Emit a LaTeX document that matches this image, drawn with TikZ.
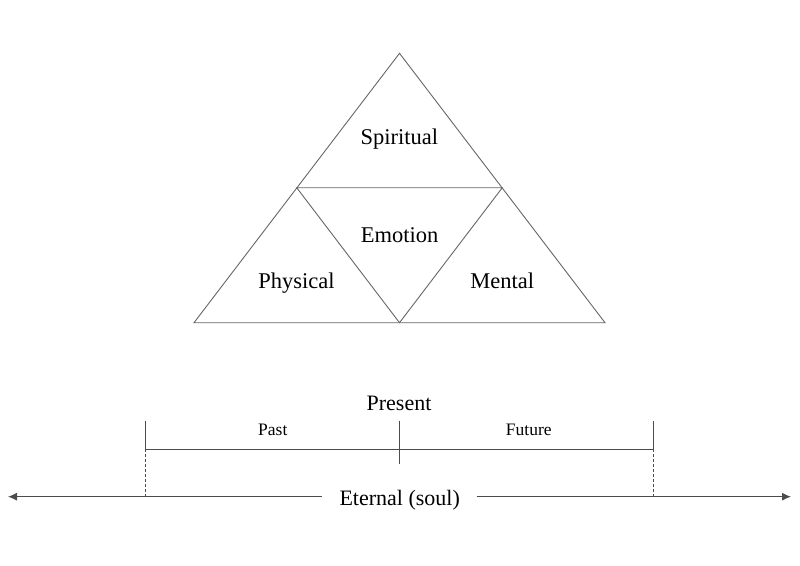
\documentclass[tikz,border=0pt]{standalone}
\usepackage{fontspec}
\setmainfont{Liberation Serif}
\usetikzlibrary{arrows.meta}
\tikzset{
	part/.style={font=\fontsize{22.5}{26}\selectfont,anchor=base,inner sep=0pt},
	half/.style={font=\fontsize{17.5}{20}\selectfont,anchor=base,inner sep=0pt},
	edge/.style={draw=black!60,line width=0.9pt},
	timeline/.style={draw=black!70,line width=1pt},
}
\begin{document}
\begin{tikzpicture}[x=1pt,y=-1pt]
	\useasboundingbox (0,0) rectangle (800,565);
	% triangle corners
	\coordinate (apex) at (399.5,53.3);
	\coordinate (bl) at (194,322.7);
	\coordinate (br) at (605,322.7);
	\coordinate (ml) at (296.7,187.7);
	\coordinate (mr) at (502.3,187.7);
	\coordinate (mb) at (399.5,322.7);
	\draw[edge] (apex)--(br)--(bl)--cycle;
	\draw[edge] (ml)--(mr)--(mb)--cycle;
	\node[part] (spiritual) at (399.3,144.3) {Spiritual};
	\node[part] (emotion) at (399.5,242.3) {Emotion};
	\node[part] (physical) at (296.5,288.3) {Physical};
	\node[part] (mental) at (502.3,288.3) {Mental};
	% time line
	\coordinate (pastT) at (145.7,420.7);
	\coordinate (pastB) at (145.7,449.3);
	\coordinate (pastE) at (145.7,496.7);
	\coordinate (nowT) at (399.5,420.7);
	\coordinate (nowB) at (399.5,464.3);
	\coordinate (futT) at (653.3,420.7);
	\coordinate (futB) at (653.3,449.3);
	\coordinate (futE) at (653.3,496.7);
	\coordinate (lstart) at (322,496.7);
	\coordinate (lend) at (8,496.7);
	\coordinate (rstart) at (476.7,496.7);
	\coordinate (rend) at (791,496.7);
	\node[part,font=\fontsize{22}{26}\selectfont] (present) at (399,410.7) {Present};
	\node[part,font=\fontsize{22}{26}\selectfont] (eternal) at (399.7,505) {Eternal (soul)};
	\node[half] (past) at (272.8,435) {Past};
	\node[half] (future) at (528.8,435) {Future};
	\draw[timeline] (pastT)--(pastB)--(futB)--(futT);
	\draw[timeline] (nowT)--(nowB);
	\draw[timeline,dashed,dash pattern=on 3pt off 2pt] (pastB)--(pastE);
	\draw[timeline,dashed,dash pattern=on 3pt off 2pt] (futB)--(futE);
	\draw[timeline,-{Latex[length=9pt,width=8pt]}] (lstart)--(lend);
	\draw[timeline,-{Latex[length=9pt,width=8pt]}] (rstart)--(rend);
\end{tikzpicture}
\end{document}
